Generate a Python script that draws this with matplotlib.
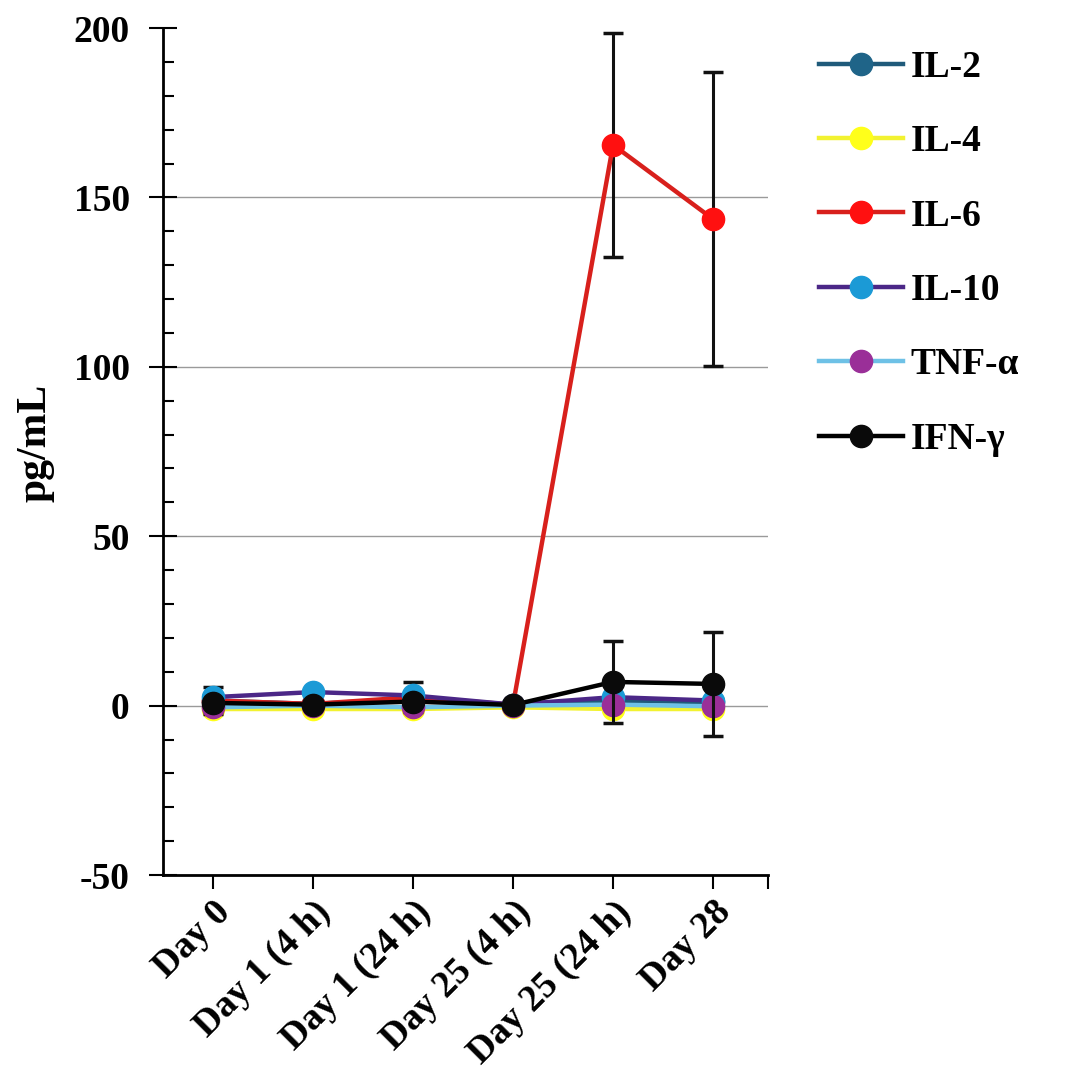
import numpy as np
import matplotlib
matplotlib.use('Agg')
import matplotlib.pyplot as plt
from matplotlib.ticker import MultipleLocator

plt.rcParams['font.family'] = ['Liberation Serif', 'DejaVu Serif']
plt.rcParams['font.weight'] = 'bold'
plt.rcParams['axes.unicode_minus'] = False

# categorias e valores
dias = ['Day 0', 'Day 1 (4 h)', 'Day 1 (24 h)', 'Day 25 (4 h)', 'Day 25 (24 h)', 'Day 28']

il2 = [1.5, 0.5, 2.0, 0.2, 1.5, 1.0]
il4 = [-1.0, -1.0, -1.0, -0.5, -1.0, -1.0]
il6 = [1.5, 0.5, 2.5, 0.3, 165.5, 143.6]
il10 = [2.5, 4.0, 3.0, 0.3, 2.5, 1.5]
tnf = [-0.5, 0.0, -0.5, 0.0, 0.3, -0.2]
ifn = [0.8, 0.3, 1.2, 0.2, 7.0, 6.4]

erro_il6 = [4.0, 0.5, 4.5, 0.3, 33.0, 43.5]
erro_ifn = [1.0, 0.5, 1.0, 0.2, 12.2, 15.3]

# nome, valores, erro, cor da linha, cor do marcador
series = [
    ('IL-2', il2, None, '#1f5a7a', '#1f6488'),
    ('IL-4', il4, None, '#f2f230', '#ffff1a'),
    ('IL-6', il6, erro_il6, '#d8201c', '#ff1010'),
    ('IL-10', il10, None, '#4b2787', '#1b9ad6'),
    ('TNF-α', tnf, None, '#6ec1e6', '#9a2f98'),
    ('IFN-γ', ifn, erro_ifn, '#000000', '#0a0a0a'),
]

fig = plt.figure(figsize=(10.69, 10.73), dpi=100)
ax = fig.add_axes([0.1525, 0.1845, 0.566, 0.7894])

x = np.arange(len(dias))
for i, (nome, y, err, cl, cm) in enumerate(series):
    if err is not None:
        ax.errorbar(x, y, yerr=err, fmt='none', ecolor='#111111', elinewidth=2.2,
                    capsize=7.5, capthick=2.5, zorder=2 + i)
    ax.plot(x, y, '-', color=cl, lw=3.2, marker='o', ms=16, mfc=cm, mec=cm,
            label=nome, zorder=3 + i)

ax.set_xlim(-0.5, 5.55)
ax.set_ylim(-50, 200)
ax.yaxis.set_major_locator(MultipleLocator(50))
ax.yaxis.set_minor_locator(MultipleLocator(10))
ax.set_xticks(list(x) + [5.55])
ax.set_xticklabels(dias + [''], rotation=45, ha='right', rotation_mode='anchor',
                   fontsize=27, fontweight='bold')
for t in ax.get_yticklabels():
    t.set_fontsize(27)
    t.set_fontweight('bold')

ax.tick_params(axis='y', which='major', direction='inout', length=20, width=1.5, pad=14)
ax.tick_params(axis='y', which='minor', direction='in', length=8, width=1.5)
ax.tick_params(axis='x', which='major', direction='out', length=10, width=1.5, pad=4)

ax.grid(axis='y', which='major', color='#9a9a9a', lw=1)
# sem linha de grade no topo (200)
for loc, gl in zip(ax.get_yticks(), ax.get_ygridlines()):
    if loc >= 200:
        gl.set_visible(False)
ax.set_axisbelow(True)
ax.spines['top'].set_visible(False)
ax.spines['right'].set_visible(False)
ax.spines['left'].set_linewidth(2)
ax.spines['bottom'].set_linewidth(2)

ax.set_ylabel('pg/mL', fontsize=30, fontweight='bold')
ax.yaxis.set_label_coords(-0.18, 0.51)

fig.legend(loc='upper left', bbox_to_anchor=(0.7345, 0.985), frameon=False,
           prop={'size': 27, 'weight': 'bold'}, handlelength=2.25,
           handletextpad=0.2, labelspacing=1.05, markerscale=1.0)

plt.savefig('out.png', dpi=100)
